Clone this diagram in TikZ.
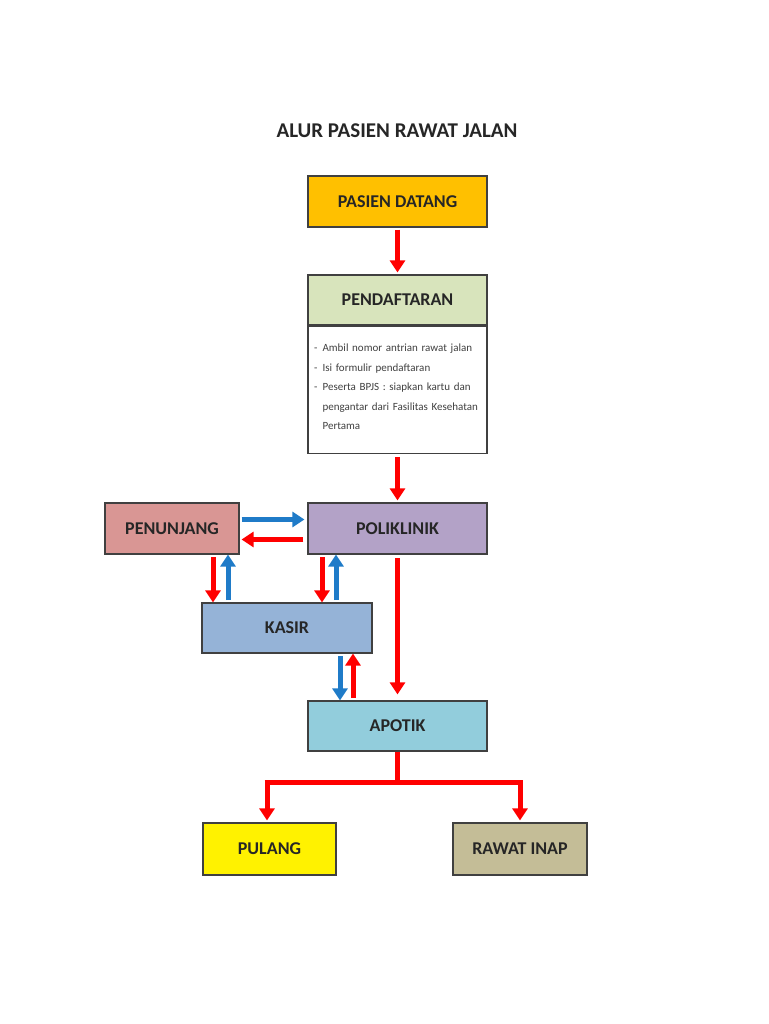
\documentclass[tikz,border=0pt]{standalone}
\usepackage{fontspec}
\setmainfont{Carlito}
\usetikzlibrary{arrows.meta}
\definecolor{cOrange}{HTML}{FFC000}
\definecolor{cGreen}{HTML}{D8E4BC}
\definecolor{cPurple}{HTML}{B3A2C7}
\definecolor{cPink}{HTML}{D99694}
\definecolor{cKasir}{HTML}{95B3D7}
\definecolor{cApotik}{HTML}{92CDDC}
\definecolor{cKhaki}{HTML}{C4BD97}
\definecolor{cRed}{HTML}{FF0000}
\definecolor{cBlue}{HTML}{1F7BC8}
\tikzset{
 box/.style={draw=black!75, line width=1.2pt, inner sep=0pt, font=\bfseries\fontsize{18}{20}\selectfont, text=black!85},
 ra/.style={draw=cRed, line width=5pt, -{Triangle[length=12pt,width=15pt]}},
 ba/.style={draw=cBlue, line width=5pt, -{Triangle[length=12pt,width=15pt]}},
 rl/.style={draw=cRed, line width=5pt},
}
\begin{document}
\begin{tikzpicture}[x=1pt,y=-1pt]
\useasboundingbox (0,0) rectangle (768,1024);
\node[font=\bfseries\fontsize{21}{23}\selectfont, text=black!85] (title) at (397,131) {ALUR PASIEN RAWAT JALAN};
\node[box, fill=cOrange, minimum width=179pt, minimum height=51pt] (datang) at (397.5,201.5) {PASIEN DATANG};
\node[box, fill=cGreen, minimum width=179pt, minimum height=50pt] (daftar) at (397.5,300) {PENDAFTARAN};
\node[box, fill=white, minimum width=179pt, minimum height=127pt, anchor=north] (daftarbody) at (daftar.south) {};
\node[anchor=north west, text width=166pt, font=\fontsize{11}{19.5}\selectfont, text=black!75, inner sep=0pt] (list) at (314,338)
 {\begin{tabular}{@{}l@{\hspace{5pt}}p{156pt}@{}}
 - & Ambil nomor antrian rawat jalan\\
 - & Isi formulir pendaftaran\\
 - & Peserta BPJS : siapkan kartu dan pengantar dari Fasilitas Kesehatan Pertama
 \end{tabular}};
\node[box, fill=cPurple, minimum width=179pt, minimum height=51pt] (poli) at (397.5,528.5) {POLIKLINIK};
\node[box, fill=cPink, minimum width=134pt, minimum height=51pt] (penunjang) at (172,528.5) {PENUNJANG};
\node[box, fill=cKasir, minimum width=170pt, minimum height=50pt] (kasir) at (287,628) {KASIR};
\node[box, fill=cApotik, minimum width=179pt, minimum height=50pt] (apotik) at (397.5,726) {APOTIK};
\node[box, fill=yellow, minimum width=133pt, minimum height=52pt] (pulang) at (269.5,849) {PULANG};
\node[box, fill=cKhaki, minimum width=134pt, minimum height=52pt] (inap) at (520,849) {RAWAT INAP};

\draw[ra] ([yshift=-2pt]datang.south) -- ([yshift=2pt]daftar.north);
\draw[ra] ([yshift=-3pt]daftarbody.south) -- ([yshift=2pt]poli.north);
\draw[ba] ([xshift=2pt,yshift=9pt]penunjang.east) -- ([xshift=-3pt,yshift=9pt]poli.west);
\draw[ra] ([xshift=-4pt,yshift=-11pt]poli.west) -- ([xshift=2pt,yshift=-11pt]penunjang.east);
\draw[ra] ({213,557}) -- ({213,0}|-kasir.north);
\draw[ba] ({228,600}) -- ({228,0}|-penunjang.south);
\draw[ra] ({322,557}) -- ({322,0}|-kasir.north);
\draw[ba] ({336,600}) -- ({336,0}|-poli.south);
\draw[ba] ({340,656}) -- ({340,0}|-apotik.north);
\draw[ra] ({353,698}) -- ({353,0}|-kasir.south);
\draw[ra] ({397.5,558}) -- ([yshift=6pt]apotik.north);
\coordinate (split) at (397.5,782);
\coordinate (lt) at (267,782);
\coordinate (rt) at (520,782);
\draw[rl] (apotik.south) -- (split);
\draw[rl] ([xshift=-2.5pt]lt) -- ([xshift=2.5pt]rt);
\draw[ra] (lt) -- ([yshift=2pt]lt|-pulang.north);
\draw[ra] (rt) -- ([yshift=2pt]rt|-inap.north);
\end{tikzpicture}
\end{document}
